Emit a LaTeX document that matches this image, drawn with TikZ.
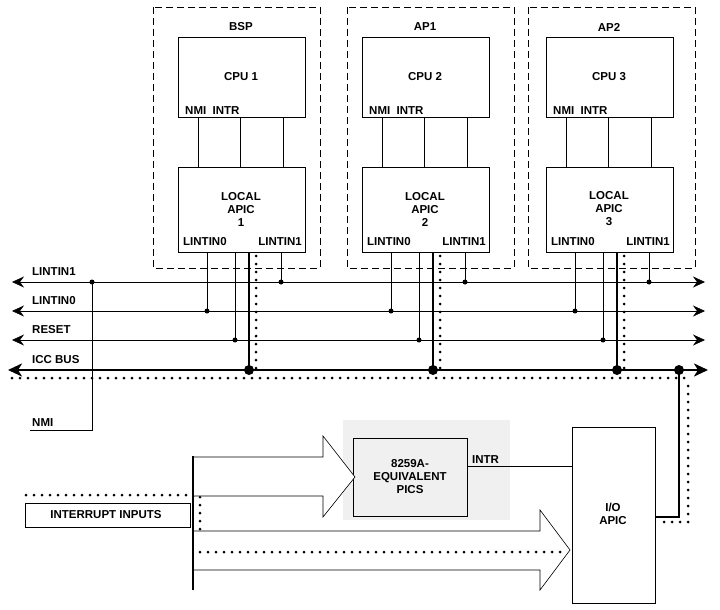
\documentclass[tikz,border=0pt]{standalone}
\usepackage{fontspec}
\setmainfont{Liberation Sans}[BoldFont={Liberation Sans Bold}]
\usetikzlibrary{arrows.meta}
\begin{document}
\begin{tikzpicture}[x=1pt,y=-1pt,
  lbl/.style={font=\fontsize{11.5}{13}\selectfont\bfseries,inner sep=0pt},
  box/.style={draw,line width=0.6pt},
  dbox/.style={draw,dash pattern=on 7pt off 4pt,line width=0.5pt},
  bus/.style={line width=0.6pt,{Stealth[length=12pt,width=11pt,inset=4pt]}-{Stealth[length=12pt,width=11pt,inset=4pt]}},
  thick bus/.style={line width=2.8pt},
  dots/.style={line width=3pt,line cap=round,dash pattern=on 0pt off 8pt},
  dot/.style={circle,fill,inner sep=0pt,minimum size=5pt},
  bigdot/.style={circle,fill,inner sep=0pt,minimum size=10pt},
  fat/.style={draw,fill=white,line width=0.6pt}]
\useasboundingbox (0,0) rectangle (720,610);
% bus lines
\coordinate (l1L) at (12,282); \coordinate (l1R) at (705,282);
\coordinate (l0L) at (12,311); \coordinate (l0R) at (705,311);
\coordinate (rsL) at (12,340); \coordinate (rsR) at (705,340);
\coordinate (icL) at (8,370); \coordinate (icR) at (708,370);
\draw[bus] (l1L) -- (l1R);
\draw[bus] (l0L) -- (l0R);
\draw[bus] (rsL) -- (rsR);
\draw[line width=2.8pt,{Stealth[length=14pt,width=13pt,inset=4pt]}-{Stealth[length=14pt,width=13pt,inset=4pt]}] (icL) -- (icR);
\coordinate (dL) at (12,378); \coordinate (dR) at (688,378);
\draw[dots] (dL) -- (dR);
\node[lbl,anchor=west] (tl1) at (32,272) {LINTIN1};
\node[lbl,anchor=west] (tl0) at (32,301) {LINTIN0};
\node[lbl,anchor=west] (trs) at (32,330) {RESET};
\node[lbl,anchor=west] (tic) at (32,360) {ICC BUS};
% processors
\foreach \o/\name/\cpu/\n/\dx in {0/BSP/CPU 1/1/0, 184/AP1/CPU 2/2/194, 368/AP2/CPU 3/3/375}{
  \begin{scope}[xshift=\o]
  \draw[dbox] (153+\dx-\o,7) rectangle (320+\dx-\o,268);
  \node[lbl] (nm\n) at (241,27) {\name};
  \node[box,minimum width=127pt,minimum height=80pt,anchor=north west] (cpu\n) at (178,37) {};
  \node[lbl] at (241,77) {\cpu};
  \node[lbl,anchor=west] at (185,111) {NMI\ \ INTR};
  \node[box,minimum width=127pt,minimum height=85pt,anchor=north west] (apic\n) at (178,167) {};
  \node[lbl,align=center] at (241,209) {LOCAL\\APIC\\\n};
  \node[lbl,anchor=west] at (183,242) {LINTIN0};
  \node[lbl,anchor=east] at (302,242) {LINTIN1};
  \foreach \xx in {198,240,283} \draw[line width=0.5pt] (\xx,117) -- (\xx,167);
  \draw[line width=0.5pt] (207,252) -- (207,311) node[dot]{};
  \draw[line width=0.5pt] (235,252) -- (235,340) node[dot]{};
  \draw[line width=0.5pt] (281,252) -- (281,282) node[dot]{};
  \draw[thick bus] (249,252) -- (249,370) node[bigdot]{};
  \draw[dots] (256,256) -- (256,372);
  \end{scope}
}
% NMI
\node[lbl,anchor=west] (nmi) at (32,423) {NMI};
\coordinate (nmiS) at (30,430);
\draw[line width=0.5pt] (nmiS) -- (92,430) -- (92,282) node[dot]{};
% PIC
\fill[gray!12] (343,420) rectangle (510,520);
\node[box,minimum width=114pt,minimum height=78pt,anchor=north west,fill=gray!12] (pic) at (353,438) {};
\node[lbl,align=center] at (410,477) {8259A-\\EQUIVALENT\\PICS};
\node[lbl,anchor=west] (intr) at (472,460) {INTR};
% IO APIC
\node[box,minimum width=83pt,minimum height=176pt,anchor=north west] (io) at (572,427) {};
\node[lbl,align=center] at (613,514) {I/O\\APIC};
\draw[line width=0.5pt] (467,466) -- (572,466);
% IO APIC to bus
\draw[thick bus] (655,517) -- (679,517) -- (679,370) node[bigdot]{};
\draw[dots] (688,386) -- (688,522) -- (660,522);
% interrupt inputs
\node[draw,line width=0.5pt,minimum width=165pt,minimum height=24pt,anchor=north west] (ii) at (25,503) {};
\node[lbl] at (106,515) {INTERRUPT INPUTS};
\draw[dots] (26,495) -- (200,495) -- (200,545);
% big arrows
\draw[fat] (194,457) -- (323,457) -- (323,436) -- (355,477) -- (323,517) -- (323,496) -- (194,496);
\draw[fat] (194,531) -- (540,531) -- (540,510) -- (570,550) -- (540,590) -- (540,570) -- (194,570);
\draw[dots] (200,552) -- (565,552);
\draw[line width=2.5pt] (193,456) -- (193,590);
\end{tikzpicture}
\end{document}
